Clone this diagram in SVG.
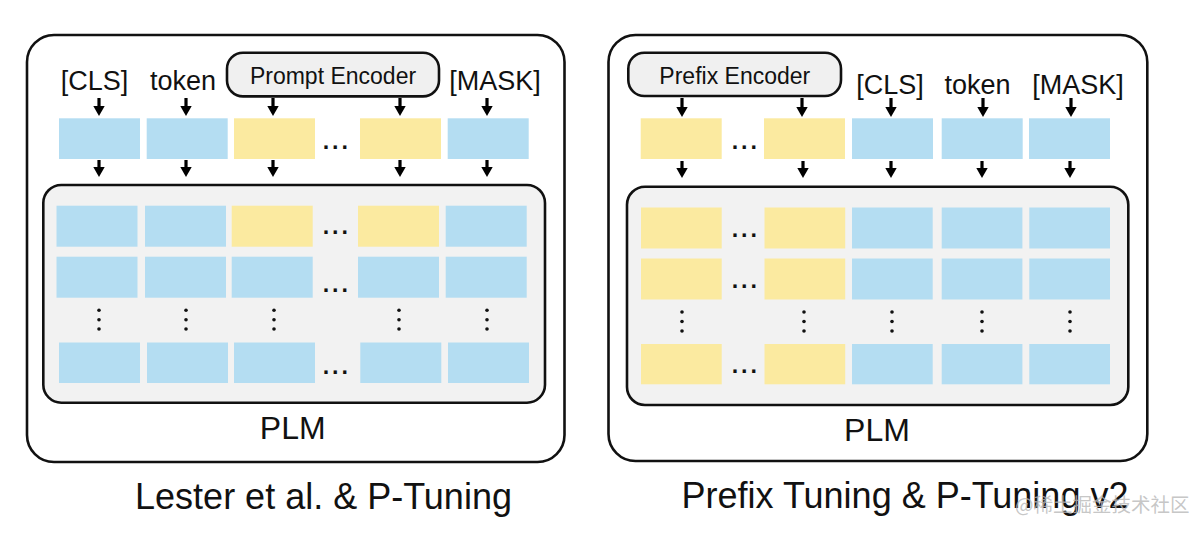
<svg xmlns="http://www.w3.org/2000/svg" width="1194" height="534" viewBox="0 0 1194 534">
<defs>
<marker id="ah" markerUnits="userSpaceOnUse" markerWidth="13" markerHeight="13" refX="1" refY="6" orient="auto">
<path d="M0,0 L10.5,6 L0,12 z" fill="#000"/>
</marker>
<style>
.panel{fill:#fff;stroke:#111;stroke-width:2.6}
.plm{fill:#f2f2f2;stroke:#111;stroke-width:2.6}
.enc{fill:#f0f0f0;stroke:#111;stroke-width:2.6}
.b{fill:#b4ddf2}
.y{fill:#fbeaa0}
.lbl{font-family:"Liberation Sans",Arial,sans-serif;font-size:27px;fill:#111;text-anchor:middle}
.enct{font-family:"Liberation Sans",Arial,sans-serif;font-size:23px;fill:#111;text-anchor:middle}
.plmt{font-family:"Liberation Sans",Arial,sans-serif;font-size:32px;fill:#111;text-anchor:middle}
.cap{font-family:"Liberation Sans",Arial,sans-serif;font-size:36px;fill:#111;text-anchor:middle}
.dots{font-family:"Liberation Sans",Arial,sans-serif;font-size:34px;fill:#111;text-anchor:middle}
.arr{stroke:#000;stroke-width:3.2;fill:none;marker-end:url(#ah)}
.vd{fill:#111}
.wm{font-family:"Noto Sans CJK SC","Liberation Sans",sans-serif;font-size:19.5px;fill:#b8b8b8;fill-opacity:0.8}
</style>
</defs>

<!-- LEFT PANEL -->
<g id="left-panel">
<rect class="panel" x="27" y="35" width="537.5" height="427" rx="27"/>
</g>
<g id="left-plm">
<rect class="plm" x="43.3" y="185" width="501.7" height="217.7" rx="18"/>
<g id="left-plm-row1">
<rect class="b" x="56.5" y="205.7" width="81" height="41"/>
<rect class="b" x="145" y="205.7" width="81" height="41"/>
<rect class="y" x="231.7" y="205.7" width="81" height="41"/>
<rect class="y" x="358" y="205.7" width="81" height="41"/>
<rect class="b" x="445.7" y="205.7" width="81" height="41"/>
<text class="dots" x="335.3" y="233.7">...</text>
</g>
<g id="left-plm-row2">
<rect class="b" x="56.5" y="256.7" width="81" height="41"/>
<rect class="b" x="145" y="256.7" width="81" height="41"/>
<rect class="b" x="231.7" y="256.7" width="81" height="41"/>
<rect class="b" x="358" y="256.7" width="81" height="41"/>
<rect class="b" x="445.7" y="256.7" width="81" height="41"/>
<text class="dots" x="335.3" y="291.7">...</text>
</g>
<g id="left-plm-vdots">
<circle class="vd" cx="99" cy="310.3" r="1.8"/><circle class="vd" cx="99" cy="319.7" r="1.8"/><circle class="vd" cx="99" cy="329" r="1.8"/>
<circle class="vd" cx="186" cy="310.3" r="1.8"/><circle class="vd" cx="186" cy="319.7" r="1.8"/><circle class="vd" cx="186" cy="329" r="1.8"/>
<circle class="vd" cx="274" cy="310.3" r="1.8"/><circle class="vd" cx="274" cy="319.7" r="1.8"/><circle class="vd" cx="274" cy="329" r="1.8"/>
<circle class="vd" cx="399" cy="310.3" r="1.8"/><circle class="vd" cx="399" cy="319.7" r="1.8"/><circle class="vd" cx="399" cy="329" r="1.8"/>
<circle class="vd" cx="487" cy="310.3" r="1.8"/><circle class="vd" cx="487" cy="319.7" r="1.8"/><circle class="vd" cx="487" cy="329" r="1.8"/>
</g>
<g id="left-plm-row4">
<rect class="b" x="59" y="342.5" width="81" height="40.5"/>
<rect class="b" x="147" y="342.5" width="81" height="40.5"/>
<rect class="b" x="234" y="342.5" width="81" height="40.5"/>
<rect class="b" x="360.3" y="342.5" width="81" height="40.5"/>
<rect class="b" x="448" y="342.5" width="81" height="40.5"/>
<text class="dots" x="335.3" y="374">...</text>
</g>
<text class="plmt" x="292.7" y="439">PLM</text>
</g>
<g id="left-inputs">
<rect class="b" x="59" y="118.3" width="81" height="40.7"/>
<rect class="b" x="146.7" y="118.3" width="81" height="40.7"/>
<rect class="y" x="234" y="118.3" width="81" height="40.7"/>
<rect class="y" x="360" y="118.3" width="81" height="40.7"/>
<rect class="b" x="447.7" y="118.3" width="81" height="40.7"/>
<text class="dots" x="335.3" y="149">...</text>
</g>
<g id="left-labels">
<text class="lbl" x="94.5" y="89.5">[CLS]</text>
<text class="lbl" x="183" y="89.5">token</text>
<text class="lbl" x="495" y="89.5">[MASK]</text>
</g>
<g id="prompt-encoder">
<rect class="enc" x="227" y="52.7" width="212" height="43.7" rx="16"/>
<text class="enct" x="333" y="83.5">Prompt Encoder</text>
</g>
<text id="left-caption" class="cap" x="323.5" y="509">Lester et al. &amp; P-Tuning</text>

<!-- RIGHT PANEL -->
<g id="right-panel">
<rect class="panel" x="608.5" y="35" width="538.8" height="426" rx="27"/>
</g>
<g id="right-plm">
<rect class="plm" x="627" y="186.7" width="501.3" height="218.3" rx="18"/>
<g id="right-plm-row1">
<rect class="y" x="641" y="207.5" width="80.7" height="41"/>
<rect class="y" x="764.5" y="207.5" width="80.7" height="41"/>
<rect class="b" x="852" y="207.5" width="80.7" height="41"/>
<rect class="b" x="941.7" y="207.5" width="80.7" height="41"/>
<rect class="b" x="1029.3" y="207.5" width="80.7" height="41"/>
<text class="dots" x="744.3" y="237">...</text>
</g>
<g id="right-plm-row2">
<rect class="y" x="641" y="258.5" width="80.7" height="41"/>
<rect class="y" x="764.5" y="258.5" width="80.7" height="41"/>
<rect class="b" x="852" y="258.5" width="80.7" height="41"/>
<rect class="b" x="941.7" y="258.5" width="80.7" height="41"/>
<rect class="b" x="1029.3" y="258.5" width="80.7" height="41"/>
<text class="dots" x="744.3" y="288">...</text>
</g>
<g id="right-plm-vdots">
<circle class="vd" cx="682" cy="312" r="1.8"/><circle class="vd" cx="682" cy="321.5" r="1.8"/><circle class="vd" cx="682" cy="331" r="1.8"/>
<circle class="vd" cx="804" cy="312" r="1.8"/><circle class="vd" cx="804" cy="321.5" r="1.8"/><circle class="vd" cx="804" cy="331" r="1.8"/>
<circle class="vd" cx="892" cy="312" r="1.8"/><circle class="vd" cx="892" cy="321.5" r="1.8"/><circle class="vd" cx="892" cy="331" r="1.8"/>
<circle class="vd" cx="982" cy="312" r="1.8"/><circle class="vd" cx="982" cy="321.5" r="1.8"/><circle class="vd" cx="982" cy="331" r="1.8"/>
<circle class="vd" cx="1070" cy="312" r="1.8"/><circle class="vd" cx="1070" cy="321.5" r="1.8"/><circle class="vd" cx="1070" cy="331" r="1.8"/>
</g>
<g id="right-plm-row4">
<rect class="y" x="641" y="344" width="80.7" height="40.3"/>
<rect class="y" x="764.5" y="344" width="80.7" height="40.3"/>
<rect class="b" x="852" y="344" width="80.7" height="40.3"/>
<rect class="b" x="941.7" y="344" width="80.7" height="40.3"/>
<rect class="b" x="1029.3" y="344" width="80.7" height="40.3"/>
<text class="dots" x="744.3" y="373">...</text>
</g>
<text class="plmt" x="877" y="441">PLM</text>
</g>
<g id="right-inputs">
<rect class="y" x="640.7" y="118.3" width="81" height="40.7"/>
<rect class="y" x="764" y="118.3" width="81" height="40.7"/>
<rect class="b" x="852" y="118.3" width="81" height="40.7"/>
<rect class="b" x="941.7" y="118.3" width="81" height="40.7"/>
<rect class="b" x="1029" y="118.3" width="81" height="40.7"/>
<text class="dots" x="744.3" y="148.5">...</text>
</g>
<g id="right-labels">
<text class="lbl" x="890" y="94">[CLS]</text>
<text class="lbl" x="977.5" y="94">token</text>
<text class="lbl" x="1078" y="94">[MASK]</text>
</g>
<g id="prefix-encoder">
<rect class="enc" x="628.3" y="52.7" width="212.7" height="43.3" rx="16"/>
<text class="enct" x="734.8" y="84">Prefix Encoder</text>
</g>
<text id="right-caption" class="cap" x="905" y="508">Prefix Tuning &amp; P-Tuning v2</text>

<!-- CONNECTORS -->
<g id="connectors">
<line class="arr" x1="99" y1="98" x2="99" y2="106.5"/>
<line class="arr" x1="186" y1="98" x2="186" y2="106.5"/>
<line class="arr" x1="273" y1="98" x2="273" y2="106.5"/>
<line class="arr" x1="400" y1="98" x2="400" y2="106.5"/>
<line class="arr" x1="487" y1="98" x2="487" y2="106.5"/>
<line class="arr" x1="99" y1="160" x2="99" y2="167.5"/>
<line class="arr" x1="186" y1="160" x2="186" y2="167.5"/>
<line class="arr" x1="273" y1="160" x2="273" y2="167.5"/>
<line class="arr" x1="400" y1="160" x2="400" y2="167.5"/>
<line class="arr" x1="487" y1="160" x2="487" y2="167.5"/>
<line class="arr" x1="682" y1="98" x2="682" y2="107.5"/>
<line class="arr" x1="802" y1="98" x2="802" y2="107.5"/>
<line class="arr" x1="891" y1="98" x2="891" y2="107.5"/>
<line class="arr" x1="983" y1="98" x2="983" y2="107.5"/>
<line class="arr" x1="1071" y1="98" x2="1071" y2="107.5"/>
<line class="arr" x1="682" y1="161" x2="682" y2="168.5"/>
<line class="arr" x1="803" y1="161" x2="803" y2="168.5"/>
<line class="arr" x1="891" y1="161" x2="891" y2="168.5"/>
<line class="arr" x1="982" y1="161" x2="982" y2="168.5"/>
<line class="arr" x1="1070" y1="161" x2="1070" y2="168.5"/>
</g>

<text id="watermark" class="wm" x="1015" y="512">@稀土掘金技术社区</text>
</svg>
